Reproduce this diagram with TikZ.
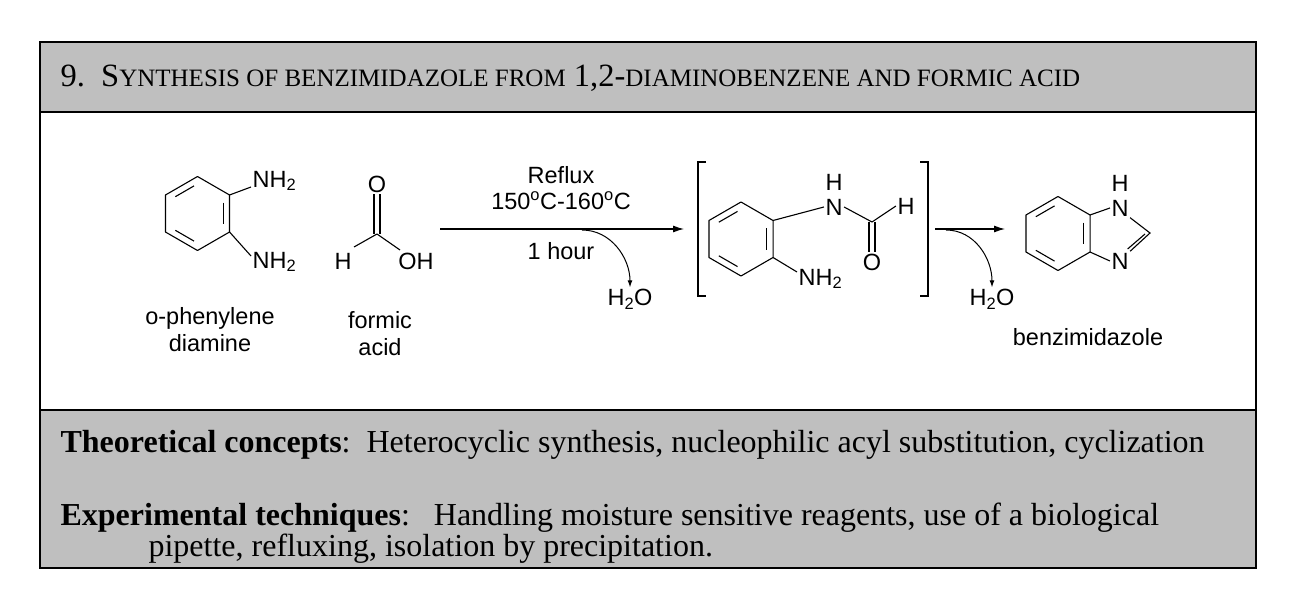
\documentclass[tikz,border=0pt]{standalone}
\usepackage{fontspec}
\setmainfont{Liberation Serif}
\setsansfont{Liberation Sans}
\usetikzlibrary{calc,arrows.meta}
\newcommand{\smc}[1]{{\fontsize{25}{25}\selectfont #1}}
\begin{document}
\begin{tikzpicture}[x=1pt,y=-1pt,line width=1.2pt,
  atom/.style={font=\sffamily\fontsize{23.5}{23.5}\selectfont,inner sep=1pt},
  lbl/.style={font=\sffamily\fontsize{23.5}{27}\selectfont,align=center},
  cond/.style={font=\sffamily\fontsize{23.5}{23.5}\selectfont,inner sep=0pt},
  body/.style={font=\fontsize{32}{36}\selectfont,anchor=base west,inner sep=0pt},
  bond/.style={line width=1.1pt},
  ring/.pic={
    \foreach \a in {30,90,...,330} \coordinate (-v\a) at (\a:37);
    \coordinate (-c) at (0,0);
    \draw[bond,line join=round] (-v30)--(-v90)--(-v150)--(-v210)--(-v270)--(-v330)--cycle;
    \foreach \p/\q in {210/270,330/30,90/150}
      \draw[bond,shorten >=4pt,shorten <=4pt] ($(-c)!0.8!(-v\p)$)--($(-c)!0.8!(-v\q)$);
  }]
\useasboundingbox (0,0) rectangle (1296,612);
% frame
\fill[gray!50] (40,42) rectangle (1256,112);
\fill[gray!50] (40,410) rectangle (1256,568);
\draw[line width=1.5pt] (40,42) rectangle (1256,568);
\draw[line width=1.5pt] (40,112)--(1256,112) (40,410)--(1256,410);
\node[body,font=\fontsize{32.5}{32.5}\selectfont] (title) at (60,87) {9.\ \ S\smc{YNTHESIS OF BENZIMIDAZOLE FROM} 1,2-\smc{DIAMINOBENZENE AND FORMIC ACID}};
\node[body] (t1) at (60,452) {\textbf{Theoretical concepts}:\ \ Heterocyclic synthesis, nucleophilic acyl substitution, cyclization};
\node[body] (t2) at (60,525) {\textbf{Experimental techniques}:\ \ \ Handling moisture sensitive reagents, use of a biological};
\node[body] (t3) at (148,556) {pipette, refluxing, isolation by precipitation.};
% o-phenylenediamine
\pic (A) at (197.5,213.5) {ring};
\node[atom,anchor=west] (an1) at (251,181) {NH\textsubscript{2}};
\node[atom,anchor=west] (an2) at (251,262) {NH\textsubscript{2}};
\draw[bond] (A-v330)--(an1.west |- 0,187);
\draw[bond] (A-v30)--(an2.west |- 0,256);
\node[lbl] (n1) at (210,330) {o-phenylene\\diamine};
% formic acid
\coordinate (fc) at (377,234);
\node[atom] (fo) at (377,184) {O};
\node[atom] (fh) at (343,261) {H};
\node[atom] (foh) at (416,261) {OH};
\draw[bond] ($(fc)+(-3,0)$)--($(fo.south)+(-3,0)$) ($(fc)+(3,0)$)--($(fo.south)+(3,0)$);
\draw[bond] (fc)--(354,247) (fc)--(400,250);
\node[lbl] (n2) at (380,334) {formic\\acid};
% arrow 1
\coordinate (a1s) at (440,229);
\coordinate (a1e) at (684,229);
\draw[bond,-{Latex[length=11pt,width=7pt]}] (a1s)--(a1e);
\node[cond] (r1) at (561,175) {Reflux};
\node[cond] (r2) at (561,201) {150\textsuperscript{o}C-160\textsuperscript{o}C};
\node[cond] (r3) at (561,251) {1 hour};
\node[atom] (w1) at (630,299) {H\textsubscript{2}O};
\draw[line width=1pt,-{Latex[length=7pt,width=5pt]}] (582,230) to[out=0,in=90] (w1.north);
% intermediate
\draw[bond] (706,162)--(698,162)--(698,296)--(706,296);
\draw[bond] (920,162)--(928,162)--(928,296)--(920,296);
\pic (B) at (741,239) {ring};
\node[atom] (bn) at (834,207) {N};
\node[atom] (bh1) at (834,182) {H};
\coordinate (bc) at (872,222);
\node[atom] (bh2) at (906,206) {H};
\node[atom] (bo) at (872,262) {O};
\node[atom,anchor=west] (bnh) at (797,279) {NH\textsubscript{2}};
\draw[bond] (B-v330)--(bn.west);
\draw[bond] (bn.east)--(bc)--(bh2.west);
\draw[bond] ($(bc)+(-3,0)$)--($(bo.north)+(-3,0)$) ($(bc)+(3,0)$)--($(bo.north)+(3,0)$);
\draw[bond] (B-v30)--(bnh.west |- 0,272);
% arrow 2
\coordinate (a2s) at (935,229);
\coordinate (a2e) at (1005,229);
\draw[bond,-{Latex[length=11pt,width=7pt]}] (a2s)--(a2e);
\node[atom] (w2) at (992,299) {H\textsubscript{2}O};
\draw[line width=1pt,-{Latex[length=7pt,width=5pt]}] (946,230) to[out=0,in=90] (w2.north);
% benzimidazole
\pic (C) at (1058,233.5) {ring};
\node[atom] (cn1) at (1120,208) {N};
\node[atom] (ch) at (1120,183) {H};
\coordinate (cc) at (1150,233);
\node[atom] (cn3) at (1120,261) {N};
\draw[bond] (C-v330)--(cn1.west);
\draw[bond] (C-v30)--(cn3.west);
\draw[bond] (cn1.south east)--(cc)--(cn3.north east);
\draw[bond,shorten >=2pt] ($(cc)+(-5,1)$)--($(cn3.north east)+(-4,-1)$);
\node[lbl] (n3) at (1088,337) {benzimidazole};
\end{tikzpicture}
\end{document}
